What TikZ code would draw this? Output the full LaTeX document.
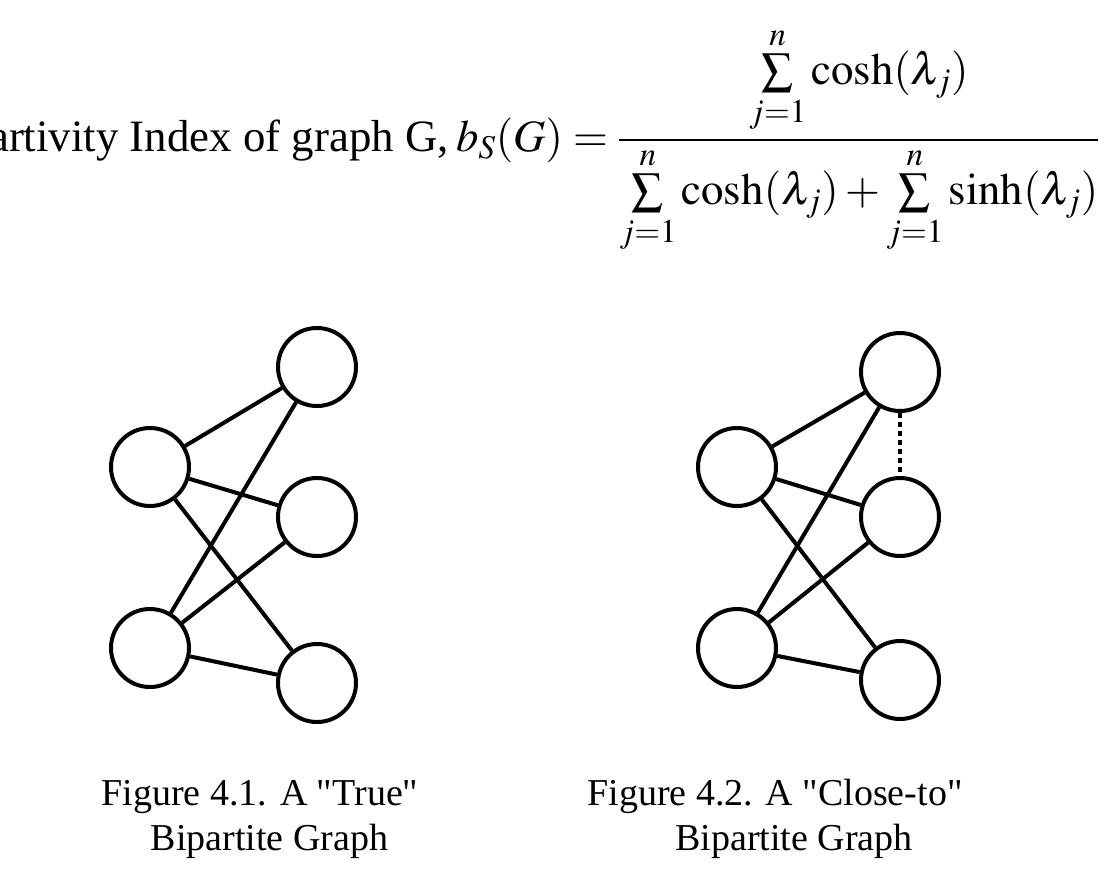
\documentclass[tikz,border=0pt]{standalone}
\usepackage{mathptmx}
\usepackage{fontspec}
\setmainfont{Liberation Serif}
\begin{document}
\begin{tikzpicture}[x=1pt,y=-1pt,
  vtx/.style={circle,draw,line width=4pt,minimum size=78pt,inner sep=0pt},
  edge/.style={line width=4pt},
  captext/.style={font=\fontsize{38}{45}\selectfont,align=center}]
\useasboundingbox (0,0) rectangle (1104,884);
\begin{scope}
\clip (0,0) rectangle (1104,884);
\node[anchor=east,inner sep=0pt,scale=1.18,font=\fontsize{38}{44}\selectfont] (f) at (1100,140)
 {Bipartivity Index of graph G,\,$\displaystyle b_S(G)=\frac{\sum\limits_{j=1}^{n}\cosh(\lambda_j)}{\sum\limits_{j=1}^{n}\cosh(\lambda_j)+\sum\limits_{j=1}^{n}\sinh(\lambda_j)}$};
\end{scope}
% left graph
\node[vtx] (a1) at (150,467) {};
\node[vtx] (a2) at (150,648) {};
\node[vtx] (b1) at (317,367) {};
\node[vtx] (b2) at (317,517) {};
\node[vtx] (b3) at (317,683) {};
\foreach \u in {a1,a2}\foreach \v in {b1,b2,b3} \draw[edge] (\u) -- (\v);
% right graph
\node[vtx] (c1) at (737,467) {};
\node[vtx] (c2) at (737,648) {};
\node[vtx] (d1) at (900,372) {};
\node[vtx] (d2) at (900,517) {};
\node[vtx] (d3) at (900,680) {};
\foreach \u in {c1,c2}\foreach \v in {d1,d2,d3} \draw[edge] (\u) -- (\v);
\draw[edge,dash pattern=on 5pt off 4pt] (d1) -- (d2);
\node[captext] (t1) at (260,819) {Figure 4.1. A \textquotedbl True\textquotedbl\\ \ \ Bipartite Graph};
\node[captext] (t2) at (775,819) {Figure 4.2. A \textquotedbl Close-to\textquotedbl\\ \ \ \ \ Bipartite Graph};
\end{tikzpicture}
\end{document}
